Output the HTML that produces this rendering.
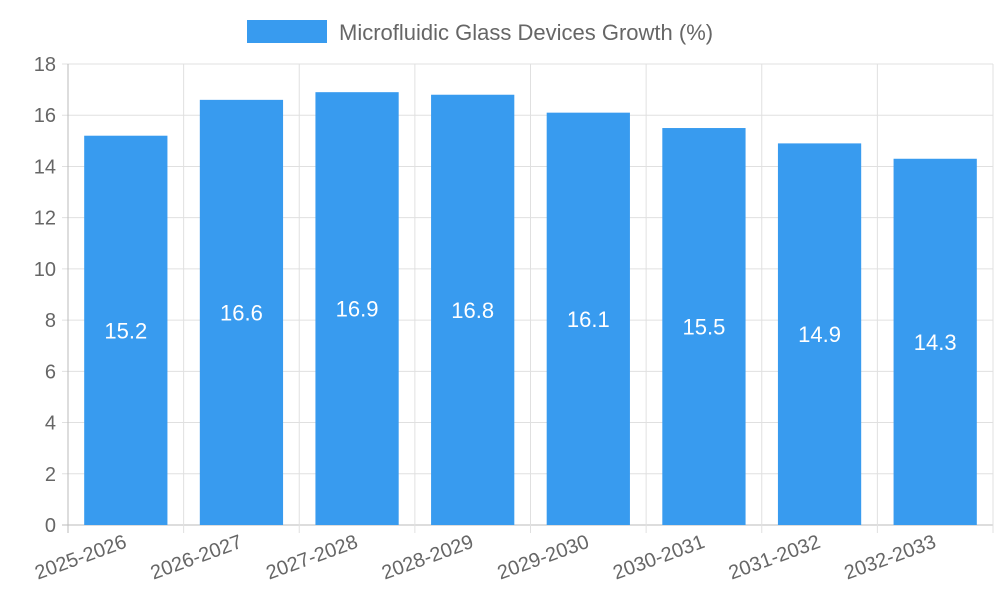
<!DOCTYPE html>
<html><head><meta charset="utf-8"><style>
body{margin:0;background:#fff;width:1000px;height:600px;overflow:hidden}
svg{font-family:"Liberation Sans",sans-serif}
</style></head><body>
<svg id="chart" width="1000" height="600">
<g>
<rect x="247" y="20" width="80" height="23" fill="#389bef"></rect>
<text x="339" y="40" font-size="22" fill="#666">Microfluidic Glass Devices Growth (%)</text>
</g>
<g id="grid"></g>
<g id="bars"></g>
<g id="axes"></g>
</svg>
<script>
const categories=["2025-2026","2026-2027","2027-2028","2028-2029","2029-2030","2030-2031","2031-2032","2032-2033"];
const values=[15.2,16.6,16.9,16.8,16.1,15.5,14.9,14.3];
const yTicks=[0,2,4,6,8,10,12,14,16,18];
const NS="http://www.w3.org/2000/svg";
const L=68,R=993,T=64,B=525,yMax=18;
const band=(R-L)/categories.length;
const y=v=>B-(v/yMax)*(B-T);
const x=i=>L+i*band;
function mk(tag,attrs,parent){const e=document.createElementNS(NS,tag);for(const k in attrs)e.setAttribute(k,attrs[k]);parent.appendChild(e);return e;}
const grid=document.getElementById('grid'),bars=document.getElementById('bars'),axes=document.getElementById('axes');
yTicks.forEach(t=>{
  const g=mk('line',{x1:L-6,x2:R,y1:y(t),y2:y(t),stroke:t===0?'#bbb':'#e0e0e0','stroke-width':1},grid);
  
  
  const tx=mk('text',{x:L-12,y:y(t)+7,'text-anchor':'end','font-size':20,fill:'#666'},axes);
  tx.textContent=t;
  
  
});
for(let i=0;i<=categories.length;i++){
  const g=mk('line',{x1:x(i),x2:x(i),y1:T,y2:B+8,stroke:i===0?'#bbb':'#e0e0e0','stroke-width':1},grid);
  
  
}
categories.forEach((c,i)=>{
  const bw=band*0.72,bx=x(i)+(band-bw)/2;
  const r=mk('rect',{x:bx,y:y(values[i]),width:bw,height:B-y(values[i]),fill:'#389bef'},bars);
  
  
  const vt=mk('text',{x:bx+bw/2,y:(y(values[i])+B)/2+8,'text-anchor':'middle','font-size':22,fill:'#fff'},bars);
  vt.textContent=values[i].toFixed(1);
  
  
  const cx=x(i)+band/2+2,cy=B+22;
  const lt=mk('text',{x:cx,y:cy,'text-anchor':'end','font-size':20,fill:'#666',transform:`rotate(-20 ${cx} ${cy})`},axes);
  lt.textContent=c;
  
  
});
</script>
</body></html>
